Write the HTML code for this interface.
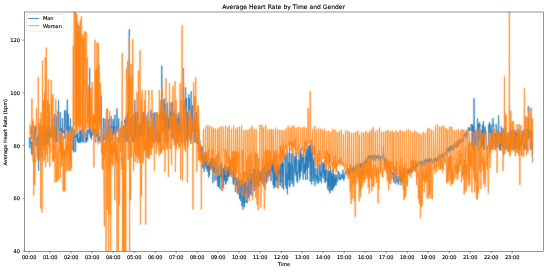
<!DOCTYPE html><html><head><meta charset="utf-8"><title>Average Heart Rate by Time and Gender</title>
<style>html,body{margin:0;padding:0;background:#fff}svg{display:block}text{font-family:"DejaVu Sans","Liberation Sans",sans-serif;fill:#000;stroke:#000;stroke-width:0.12px}</style></head><body>
<svg width="550" height="272" viewBox="0 0 550 272">
<rect width="550" height="272" fill="#fff"/>
<defs><clipPath id="c"><rect x="24.40" y="12.00" width="519.30" height="239.20"/></clipPath><filter id="b" x="0" y="0" width="550" height="272" filterUnits="userSpaceOnUse"><feConvolveMatrix order="3" kernelMatrix="0.0169 0.0962 0.0169 0.0962 0.5476 0.0962 0.0169 0.0962 0.0169" edgeMode="duplicate" preserveAlpha="false"/></filter></defs>
<g clip-path="url(#c)"><g filter="url(#b)" fill="none" stroke-width="0.82" stroke-linejoin="round">
<polyline stroke="#1f77b4" points="29.15,137.01 29.50,144.31 29.85,148.23 30.20,141.00 30.55,137.05 30.90,143.59 31.25,141.88 31.60,154.62 31.95,142.09 32.30,154.56 32.65,154.15 33.00,148.08 33.35,135.62 33.70,150.17 34.05,131.09 34.40,140.45 34.75,126.98 35.10,125.44 35.45,132.59 35.80,126.24 36.15,146.00 36.50,138.05 36.85,145.46 37.20,145.90 37.55,143.11 37.90,140.14 38.25,134.61 38.60,170.60 38.95,140.83 39.30,126.27 39.65,136.49 40.00,132.68 40.35,136.01 40.70,142.02 41.05,141.38 41.40,137.78 41.75,143.77 42.10,144.46 42.45,125.44 42.80,126.07 43.15,125.12 43.50,126.31 43.85,145.91 44.20,129.59 44.55,133.50 44.90,134.36 45.25,137.61 45.60,128.79 45.95,143.56 46.30,130.20 46.65,144.79 47.00,144.06 47.35,125.00 47.70,137.07 48.05,125.49 48.40,143.78 48.75,125.95 49.10,128.66 49.45,109.00 49.80,136.25 50.15,138.01 50.50,131.84 50.85,134.52 51.20,127.58 51.55,133.06 51.90,128.47 52.25,138.19 52.60,117.00 52.95,126.74 53.30,127.49 53.65,134.83 54.00,136.03 54.35,126.00 54.70,114.00 55.05,140.95 55.40,131.05 55.75,126.98 56.10,140.83 56.45,141.98 56.80,116.00 57.15,139.76 57.50,140.73 57.85,141.84 58.20,127.66 58.55,100.40 58.90,127.05 59.25,128.02 59.60,141.61 59.95,141.68 60.30,112.00 60.65,126.63 61.00,130.43 61.35,128.19 61.70,137.60 62.05,139.10 62.40,118.00 62.75,132.43 63.10,132.92 63.45,133.19 63.80,130.83 64.15,132.88 64.50,110.40 64.85,138.93 65.20,129.85 65.55,135.67 65.90,110.40 66.25,126.08 66.60,131.22 66.95,130.58 67.30,99.50 67.65,126.25 68.00,132.15 68.35,114.00 68.70,140.98 69.05,126.04 69.40,129.64 69.75,130.79 70.10,129.53 70.45,118.50 70.80,136.24 71.15,141.00 71.50,131.09 71.85,127.20 72.20,127.09 72.55,127.66 72.90,150.45 73.25,132.27 73.60,150.41 73.95,152.29 74.30,129.44 74.65,131.22 75.00,134.88 75.35,151.72 75.70,150.80 76.05,134.33 76.40,138.00 76.75,133.76 77.10,135.38 77.45,141.58 77.80,131.24 78.15,141.80 78.50,142.78 78.85,138.18 79.20,142.94 79.55,142.87 79.90,129.99 80.25,143.00 80.60,130.34 80.95,141.72 81.30,129.50 81.65,131.93 82.00,134.73 82.35,142.13 82.70,139.76 83.05,130.39 83.40,142.64 83.75,142.38 84.10,136.22 84.45,129.09 84.80,131.63 85.15,131.75 85.50,134.23 85.85,142.89 86.20,138.06 86.55,141.91 86.90,129.17 87.25,130.98 87.60,140.65 87.95,132.64 88.30,130.71 88.65,129.14 89.00,129.09 89.35,134.10 89.70,68.00 90.05,133.83 90.40,137.42 90.75,131.73 91.10,129.01 91.45,139.65 91.80,132.55 92.15,135.81 92.50,133.38 92.85,131.37 93.20,129.09 93.55,131.82 93.90,131.85 94.25,129.45 94.60,129.03 94.95,135.58 95.30,129.01 95.65,142.50 96.00,133.03 96.35,134.77 96.70,136.56 97.05,129.02 97.40,129.35 97.75,141.47 98.10,137.24 98.45,135.85 98.80,132.70 99.15,140.97 99.50,136.07 99.85,141.56 100.20,142.04 100.55,142.55 100.90,140.07 101.25,95.40 101.60,133.45 101.95,135.35 102.30,136.54 102.65,135.13 103.00,141.57 103.35,118.00 103.70,126.11 104.05,140.43 104.40,137.44 104.75,136.98 105.10,118.50 105.45,126.10 105.80,133.75 106.15,131.19 106.50,142.67 106.85,127.10 107.20,136.03 107.55,126.85 107.90,140.36 108.25,134.08 108.60,119.00 108.95,129.59 109.30,142.14 109.65,126.00 110.00,127.99 110.35,139.90 110.70,142.05 111.05,116.00 111.40,128.92 111.75,126.27 112.10,139.37 112.45,139.80 112.80,126.15 113.15,119.00 113.50,135.00 113.85,126.05 114.20,133.73 114.55,130.24 114.90,114.80 115.25,141.96 115.60,142.31 115.95,126.62 116.30,132.83 116.65,128.85 117.00,108.50 117.35,126.48 117.70,130.11 118.05,131.92 118.40,133.49 118.75,118.50 119.10,136.61 119.45,142.21 119.80,142.15 120.15,141.99 120.50,141.17 120.85,128.01 121.20,128.29 121.55,121.00 121.90,137.68 122.25,136.79 122.60,130.43 122.95,142.23 123.30,129.60 123.65,126.02 124.00,126.33 124.35,127.69 124.70,119.50 125.05,141.13 125.40,120.49 125.75,119.02 126.10,116.16 126.45,138.86 126.80,141.34 127.15,116.86 127.50,112.77 127.85,141.99 128.20,142.00 128.55,136.48 128.90,125.73 129.25,29.20 129.60,138.18 129.95,127.44 130.30,117.13 130.65,128.19 131.00,134.34 131.35,119.14 131.70,133.39 132.05,113.57 132.40,142.01 132.75,115.20 133.10,115.65 133.45,141.98 133.80,141.93 134.15,141.71 134.50,140.30 134.85,99.80 135.20,139.83 135.55,130.22 135.90,112.41 136.25,137.13 136.60,140.23 136.95,140.29 137.30,112.14 137.65,112.28 138.00,137.14 138.35,126.55 138.70,141.42 139.05,142.26 139.40,124.63 139.75,135.08 140.10,134.66 140.45,135.82 140.80,121.03 141.15,133.60 141.50,112.34 141.85,141.61 142.20,136.98 142.55,139.54 142.90,125.39 143.25,111.60 143.60,124.88 143.95,135.38 144.30,129.50 144.65,112.88 145.00,112.00 145.35,122.42 145.70,116.29 146.05,115.71 146.40,115.54 146.75,123.26 147.10,136.03 147.45,141.95 147.80,135.30 148.15,112.03 148.50,141.24 148.85,132.40 149.20,137.45 149.55,132.63 149.90,120.53 150.25,119.90 150.60,112.38 150.95,109.80 151.30,112.22 151.65,135.57 152.00,142.05 152.35,135.04 152.70,132.36 153.05,113.00 153.40,142.57 153.75,140.11 154.10,142.70 154.45,113.00 154.80,112.02 155.15,132.77 155.50,133.85 155.85,141.36 156.20,132.70 156.55,120.98 156.90,112.00 157.25,140.67 157.60,133.29 157.95,142.81 158.30,131.88 158.65,141.22 159.00,139.07 159.35,142.86 159.70,125.61 160.05,142.09 160.40,122.53 160.75,112.01 161.10,119.41 161.45,120.50 161.80,65.70 162.15,122.46 162.50,117.42 162.85,100.00 163.20,112.72 163.55,118.60 163.90,122.48 164.25,98.40 164.60,132.21 164.95,123.80 165.30,104.00 165.65,120.02 166.00,143.02 166.35,114.84 166.70,129.04 167.05,115.76 167.40,102.50 167.75,118.48 168.10,142.29 168.45,118.08 168.80,127.00 169.15,128.75 169.50,103.00 169.85,129.29 170.20,112.33 170.55,120.49 170.90,117.83 171.25,102.00 171.60,139.32 171.95,136.83 172.30,132.21 172.65,102.50 173.00,138.37 173.35,112.24 173.70,113.29 174.05,138.64 174.40,141.37 174.75,143.31 175.10,139.58 175.45,113.89 175.80,130.96 176.15,133.65 176.50,132.75 176.85,113.38 177.20,143.31 177.55,128.21 177.90,118.00 178.25,143.39 178.60,122.15 178.95,112.38 179.30,135.69 179.65,116.95 180.00,115.55 180.35,118.59 180.70,132.95 181.05,119.30 181.40,135.55 181.75,142.83 182.10,143.53 182.45,142.59 182.80,143.07 183.15,116.73 183.50,68.00 183.85,112.62 184.20,131.81 184.55,112.44 184.90,112.76 185.25,143.42 185.60,87.30 185.95,137.80 186.30,129.18 186.65,98.00 187.00,140.45 187.35,112.29 187.70,142.70 188.05,141.20 188.40,127.67 188.75,94.40 189.10,112.06 189.45,98.00 189.80,112.12 190.15,129.18 190.50,143.34 190.85,136.33 191.20,91.30 191.55,138.08 191.90,137.33 192.25,119.78 192.60,105.00 192.95,131.83 193.30,123.66 193.65,129.23 194.00,117.61 194.35,118.06 194.70,142.94 195.05,120.69 195.40,139.97 195.75,121.48 196.10,114.77 196.45,112.00 196.80,143.86 197.15,139.35 197.50,143.96 197.85,132.41 198.20,115.09 198.55,121.45 198.90,124.74 199.25,160.00 199.60,152.81 199.95,140.28 200.30,149.11 200.65,146.11 201.00,148.34 201.35,146.45 201.70,159.70 202.05,146.85 202.40,167.07 202.75,157.18 203.10,168.44 203.45,159.01 203.80,151.91 204.15,171.89 204.50,168.08 204.85,154.80 205.20,162.93 205.55,152.17 205.90,166.72 206.25,155.89 206.60,168.92 206.95,161.79 207.30,171.64 207.65,158.67 208.00,167.90 208.35,156.13 208.70,177.61 209.05,162.15 209.40,175.26 209.75,165.36 210.10,169.54 210.45,158.49 210.80,169.23 211.15,161.42 211.50,157.97 211.85,169.21 212.20,165.95 212.55,158.83 212.90,183.29 213.25,158.54 213.60,171.65 213.95,167.50 214.30,172.45 214.65,160.28 215.00,180.83 215.35,171.69 215.70,173.71 216.05,161.07 216.40,173.62 216.75,170.81 217.10,180.43 217.45,173.42 217.80,186.72 218.15,164.86 218.50,186.80 218.85,175.22 219.20,180.87 219.55,175.66 219.90,188.95 220.25,164.51 220.60,176.53 220.95,176.54 221.30,177.60 221.65,162.81 222.00,191.00 222.35,175.93 222.70,189.77 223.05,168.64 223.40,187.76 223.75,167.96 224.10,180.95 224.45,164.19 224.80,179.47 225.15,174.11 225.50,184.60 225.85,164.96 226.20,183.09 226.55,171.25 226.90,173.59 227.25,168.19 227.60,180.90 227.95,166.37 228.30,176.69 228.65,172.11 229.00,172.55 229.35,165.75 229.70,176.66 230.05,166.02 230.40,172.66 230.75,172.34 231.10,174.26 231.45,167.95 231.80,175.46 232.15,173.01 232.50,171.54 232.85,172.77 233.20,183.53 233.55,167.73 233.90,184.88 234.25,167.96 234.60,179.57 234.95,169.98 235.30,191.94 235.65,191.38 236.00,185.26 236.35,177.60 236.70,185.46 237.05,177.32 237.40,193.59 237.75,181.19 238.10,184.40 238.45,175.52 238.80,194.36 239.15,180.35 239.50,198.83 239.85,179.71 240.20,187.77 240.55,201.00 240.90,191.45 241.25,179.62 241.60,190.11 241.95,206.00 242.30,192.97 242.65,171.55 243.00,209.50 243.35,184.13 243.70,203.13 244.05,182.72 244.40,207.00 244.75,171.63 245.10,192.86 245.45,181.83 245.80,202.98 246.15,203.00 246.50,201.24 246.85,172.18 247.20,202.90 247.55,185.82 247.90,190.75 248.25,169.26 248.60,197.71 248.95,182.87 249.30,197.06 249.65,179.59 250.00,194.61 250.35,169.35 250.70,194.80 251.05,183.17 251.40,183.98 251.75,172.90 252.10,196.14 252.45,179.96 252.80,183.14 253.15,169.06 253.50,168.78 253.85,181.68 254.20,191.07 254.55,169.52 254.90,186.71 255.25,169.02 255.60,186.89 255.95,179.73 256.30,174.35 256.65,176.46 257.00,187.48 257.35,168.49 257.70,185.91 258.05,169.08 258.40,184.57 258.75,175.82 259.10,187.35 259.45,178.32 259.80,171.14 260.15,174.44 260.50,180.61 260.85,172.40 261.20,180.28 261.55,169.74 261.90,182.52 262.25,174.12 262.60,183.50 262.95,177.16 263.30,167.12 263.65,166.36 264.00,185.29 264.35,165.67 264.70,180.15 265.05,164.96 265.40,174.47 265.75,166.47 266.10,183.42 266.45,172.78 266.80,182.37 267.15,164.16 267.50,176.58 267.85,171.56 268.20,172.21 268.55,170.05 268.90,176.50 269.25,162.03 269.60,174.46 269.95,161.18 270.30,175.77 270.65,170.11 271.00,181.11 271.35,165.67 271.70,171.66 272.05,160.31 272.40,172.57 272.75,161.18 273.10,184.83 273.45,160.72 273.80,188.32 274.15,165.98 274.50,186.03 274.85,172.94 275.20,187.48 275.55,160.59 275.90,175.86 276.25,165.48 276.60,180.60 276.95,174.69 277.30,187.81 277.65,165.13 278.00,182.07 278.35,171.53 278.70,182.63 279.05,164.81 279.40,174.27 279.75,166.89 280.10,186.02 280.45,163.76 280.80,182.83 281.15,175.16 281.50,161.47 281.85,167.08 282.20,187.91 282.55,160.69 282.90,176.28 283.25,163.20 283.60,189.69 283.95,161.34 284.30,158.56 284.65,160.18 285.00,154.96 285.35,174.96 285.70,185.94 286.05,153.47 286.40,188.83 286.75,172.59 287.10,184.68 287.45,194.40 287.80,152.98 288.15,173.88 288.50,179.74 288.85,162.42 289.20,185.61 289.55,146.03 289.90,187.22 290.25,163.39 290.60,179.71 290.95,172.04 291.30,153.22 291.65,165.82 292.00,183.87 292.35,165.12 292.70,180.94 293.05,151.29 293.40,187.03 293.75,186.36 294.10,175.85 294.45,172.90 294.80,155.83 295.15,172.25 295.50,154.32 295.85,166.82 296.20,175.94 296.55,153.15 296.90,181.22 297.25,171.90 297.60,183.08 297.95,173.91 298.30,159.26 298.65,172.92 299.00,160.35 299.35,161.21 299.70,180.18 300.05,151.48 300.40,176.86 300.75,147.90 301.10,171.42 301.45,169.47 301.80,154.01 302.15,162.08 302.50,157.48 302.85,168.33 303.20,179.59 303.55,153.18 303.90,173.55 304.25,163.60 304.60,173.18 304.95,167.93 305.30,155.34 305.65,179.69 306.00,149.48 306.35,162.39 306.70,169.75 307.05,148.20 307.40,179.66 307.75,148.12 308.10,167.77 308.45,164.57 308.80,145.50 309.15,161.57 309.50,145.18 309.85,169.74 310.20,181.55 310.55,143.61 310.90,175.23 311.25,148.29 311.60,184.33 311.95,160.29 312.30,150.52 312.65,162.79 313.00,181.20 313.35,160.03 313.70,178.34 314.05,157.61 314.40,176.09 314.75,186.10 315.10,182.21 315.45,175.93 315.80,167.88 316.15,177.24 316.50,179.61 316.85,174.74 317.20,183.42 317.55,162.10 317.90,177.27 318.25,176.89 318.60,183.19 318.95,174.80 319.30,163.98 319.65,174.10 320.00,181.15 320.35,171.13 320.70,175.57 321.05,162.84 321.40,183.18 321.75,173.68 322.10,177.61 322.45,173.50 322.80,161.81 323.15,173.15 323.50,163.54 323.85,175.14 324.20,179.22 324.55,161.48 324.90,182.32 325.25,170.12 325.60,182.53 325.95,178.30 326.30,164.69 326.65,174.05 327.00,180.87 327.35,178.96 327.70,189.29 328.05,170.35 328.40,186.23 328.75,171.36 329.10,191.34 329.45,174.37 329.80,170.77 330.15,193.40 330.50,165.85 330.85,178.26 331.20,190.26 331.55,174.13 331.90,190.14 332.25,170.13 332.60,190.56 332.95,177.36 333.30,168.99 333.65,188.25 334.00,175.66 334.35,181.73 334.70,186.49 335.05,174.00 335.40,184.86 335.75,177.92 336.10,185.14 336.45,178.72 336.80,174.66 337.15,181.24 337.50,181.96 337.85,178.79 338.20,170.99 338.55,173.51 338.90,172.14 339.25,179.99 339.60,173.38 339.95,175.76 340.30,180.09 340.65,177.11 341.00,178.35 341.35,174.06 341.70,175.94 342.05,177.37 342.40,178.89 342.75,169.93 343.10,169.81 343.45,179.39 343.80,180.80 344.15,174.90 344.50,178.51 344.85,174.26 345.20,172.56 345.55,170.71 345.90,174.45 346.25,173.65 346.60,171.72 346.95,170.38 347.30,170.24 347.65,168.37 348.00,168.78 348.35,174.10 348.70,170.09 349.05,168.06 349.40,174.86 349.75,170.66 350.10,173.42 350.45,171.15 350.80,174.57 351.15,168.16 351.50,170.73 351.85,171.76 352.20,167.21 352.55,173.27 352.90,169.03 353.25,171.22 353.60,166.84 353.95,166.65 354.30,166.52 354.65,171.25 355.00,172.14 355.35,171.77 355.70,168.88 356.05,165.62 356.40,170.24 356.75,168.16 357.10,169.90 357.45,168.67 357.80,168.01 358.15,165.06 358.50,164.68 358.85,164.06 359.20,166.33 359.55,165.14 359.90,169.61 360.25,163.08 360.60,167.87 360.95,163.11 361.30,162.67 361.65,168.09 362.00,162.85 362.35,165.16 362.70,164.77 363.05,163.15 363.40,162.48 363.75,160.70 364.10,164.26 364.45,161.68 364.80,162.96 365.15,164.16 365.50,158.64 365.85,160.76 366.20,159.94 366.55,163.68 366.90,161.18 367.25,157.89 367.60,159.40 367.95,155.98 368.30,159.15 368.65,155.72 369.00,155.88 369.35,158.15 369.70,158.04 370.05,155.49 370.40,158.11 370.75,156.23 371.10,158.99 371.45,154.46 371.80,160.00 372.15,157.28 372.50,155.37 372.85,156.21 373.20,158.60 373.55,154.89 373.90,160.63 374.25,155.81 374.60,157.16 374.95,154.82 375.30,157.52 375.65,161.08 376.00,155.68 376.35,155.64 376.70,158.25 377.05,158.92 377.40,155.46 377.75,156.02 378.10,158.73 378.45,156.18 378.80,154.69 379.15,159.36 379.50,160.58 379.85,160.14 380.20,160.49 380.55,155.99 380.90,156.67 381.25,158.70 381.60,158.81 381.95,158.88 382.30,158.67 382.65,156.79 383.00,157.17 383.35,146.20 383.70,156.60 384.05,160.62 384.40,157.50 384.75,163.39 385.10,164.37 385.45,159.24 385.80,165.54 386.15,163.71 386.50,159.94 386.85,163.14 387.20,163.55 387.55,163.74 387.90,162.61 388.25,164.40 388.60,163.38 388.95,166.96 389.30,167.75 389.65,166.56 390.00,171.97 390.35,172.28 390.70,170.16 391.05,172.86 391.40,170.31 391.75,173.69 392.10,174.44 392.45,172.05 392.80,175.35 393.15,179.39 393.50,171.41 393.85,182.66 394.20,174.96 394.55,175.92 394.90,176.11 395.25,181.79 395.60,184.11 395.95,180.66 396.30,173.41 396.65,178.48 397.00,182.33 397.35,182.48 397.70,181.97 398.05,175.92 398.40,185.11 398.75,183.78 399.10,176.53 399.45,179.13 399.80,173.64 400.15,181.47 400.50,178.39 400.85,176.35 401.20,185.55 401.55,174.44 401.90,180.43 402.25,178.66 402.60,177.62 402.95,178.67 403.30,172.25 403.65,175.73 404.00,176.28 404.35,177.55 404.70,175.69 405.05,172.33 405.40,170.83 405.75,171.09 406.10,171.44 406.45,173.38 406.80,171.40 407.15,169.94 407.50,169.26 407.85,173.20 408.20,173.86 408.55,168.78 408.90,171.27 409.25,174.29 409.60,169.71 409.95,170.68 410.30,172.37 410.65,166.61 411.00,172.31 411.35,171.38 411.70,170.86 412.05,167.87 412.40,168.69 412.75,171.62 413.10,165.25 413.45,165.18 413.80,168.87 414.15,170.84 414.50,165.00 414.85,165.06 415.20,166.74 415.55,168.83 415.90,167.03 416.25,167.49 416.60,163.02 416.95,163.83 417.30,166.32 417.65,167.07 418.00,162.42 418.35,162.20 418.70,163.55 419.05,164.04 419.40,163.25 419.75,161.89 420.10,161.00 420.45,164.79 420.80,166.73 421.15,164.27 421.50,166.05 421.85,160.29 422.20,163.50 422.55,161.55 422.90,164.87 423.25,163.08 423.60,163.14 423.95,165.19 424.30,165.43 424.65,159.65 425.00,161.70 425.35,159.18 425.70,162.46 426.05,160.05 426.40,163.32 426.75,160.87 427.10,158.38 427.45,164.50 427.80,159.11 428.15,160.06 428.50,161.77 428.85,158.47 429.20,163.43 429.55,162.99 429.90,158.74 430.25,162.22 430.60,158.72 430.95,161.48 431.30,158.37 431.65,159.64 432.00,160.77 432.35,161.38 432.70,162.09 433.05,163.87 433.40,159.55 433.75,159.48 434.10,158.33 434.45,161.85 434.80,159.09 435.15,157.83 435.50,157.52 435.85,158.95 436.20,161.69 436.55,158.73 436.90,161.19 437.25,158.62 437.60,159.22 437.95,156.76 438.30,157.67 438.65,159.70 439.00,155.05 439.35,157.47 439.70,155.89 440.05,155.98 440.40,156.14 440.75,154.99 441.10,157.47 441.45,153.54 441.80,154.76 442.15,154.76 442.50,154.01 442.85,158.41 443.20,157.10 443.55,158.15 443.90,152.51 444.25,152.53 444.60,153.05 444.95,154.06 445.30,155.98 445.65,155.62 446.00,155.44 446.35,149.19 446.70,148.90 447.05,150.70 447.40,150.99 447.75,147.67 448.10,149.72 448.45,147.81 448.80,152.67 449.15,147.66 449.50,148.06 449.85,146.70 450.20,151.05 450.55,145.54 450.90,147.51 451.25,145.75 451.60,145.70 451.95,150.72 452.30,148.53 452.65,148.45 453.00,145.56 453.35,149.69 453.70,149.37 454.05,146.84 454.40,143.75 454.75,142.28 455.10,145.52 455.45,144.89 455.80,147.29 456.15,148.01 456.50,146.52 456.85,142.27 457.20,147.24 457.55,144.41 457.90,140.16 458.25,141.12 458.60,146.11 458.95,144.61 459.30,143.87 459.65,142.97 460.00,138.14 460.35,144.18 460.70,139.36 461.05,142.32 461.40,140.34 461.75,139.62 462.10,139.54 462.45,141.93 462.80,140.99 463.15,137.55 463.50,140.40 463.85,135.30 464.20,136.17 464.55,135.62 464.90,133.34 465.25,135.47 465.60,132.32 465.95,138.73 466.30,137.20 466.65,134.33 467.00,130.91 467.35,131.82 467.70,134.88 468.05,131.03 468.40,127.00 468.75,130.97 469.10,131.53 469.45,127.87 469.80,129.12 470.15,129.88 470.50,130.70 470.85,127.83 471.20,124.00 471.55,127.98 471.90,146.20 472.25,124.40 472.60,149.54 472.95,138.83 473.30,125.88 473.65,147.86 474.00,98.40 474.35,125.07 474.70,149.12 475.05,149.89 475.40,131.31 475.75,147.28 476.10,145.30 476.45,139.71 476.80,132.49 477.15,129.79 477.50,118.00 477.85,147.09 478.20,149.81 478.55,124.30 478.90,139.84 479.25,122.00 479.60,126.92 479.95,124.03 480.30,149.28 480.65,147.04 481.00,145.06 481.35,130.48 481.70,134.49 482.05,147.81 482.40,124.56 482.75,145.37 483.10,144.88 483.45,121.00 483.80,149.86 484.15,142.22 484.50,149.14 484.85,126.35 485.20,133.30 485.55,129.10 485.90,136.93 486.25,146.31 486.60,150.00 486.95,149.49 487.30,148.64 487.65,149.96 488.00,145.71 488.35,145.81 488.70,124.53 489.05,133.28 489.40,122.00 489.75,124.70 490.10,149.38 490.45,131.94 490.80,127.62 491.15,124.43 491.50,138.51 491.85,130.62 492.20,149.83 492.55,142.32 492.90,118.00 493.25,125.56 493.60,124.15 493.95,144.24 494.30,141.48 494.65,136.79 495.00,137.25 495.35,133.40 495.70,149.44 496.05,124.20 496.40,127.28 496.75,147.37 497.10,130.01 497.45,131.11 497.80,136.14 498.15,130.43 498.50,115.00 498.85,124.72 499.20,142.78 499.55,149.98 499.90,132.45 500.25,150.62 500.60,133.54 500.95,146.41 501.30,126.51 501.65,133.02 502.00,144.11 502.35,146.52 502.70,140.19 503.05,128.10 503.40,143.73 503.75,154.77 504.10,132.76 504.45,130.70 504.80,143.94 505.15,130.92 505.50,128.72 505.85,128.49 506.20,143.27 506.55,149.26 506.90,147.32 507.25,142.16 507.60,149.17 507.95,148.79 508.30,131.98 508.65,135.24 509.00,149.96 509.35,149.82 509.70,143.84 510.05,143.51 510.40,134.14 510.75,128.95 511.10,133.79 511.45,131.26 511.80,143.60 512.15,144.32 512.50,143.55 512.85,149.59 513.20,128.68 513.55,130.85 513.90,129.25 514.25,135.15 514.60,149.61 514.95,138.33 515.30,147.96 515.65,130.54 516.00,134.77 516.35,147.96 516.70,133.08 517.05,146.44 517.40,142.71 517.75,144.42 518.10,129.05 518.45,135.06 518.80,149.99 519.15,135.55 519.50,132.85 519.85,150.00 520.20,142.48 520.55,145.61 520.90,139.07 521.25,143.53 521.60,136.10 521.95,132.89 522.30,133.33 522.65,131.84 523.00,145.59 523.35,129.75 523.70,130.07 524.05,139.93 524.40,149.99 524.75,147.67 525.10,144.93 525.45,146.80 525.80,131.60 526.15,140.11 526.50,129.58 526.85,140.44 527.20,129.67 527.55,130.30 527.90,130.38 528.25,106.00 528.60,139.06 528.95,132.02 529.30,130.05 529.65,130.50 530.00,149.88 530.35,149.99 530.70,149.63 531.05,130.78 531.40,131.85 531.75,149.28 532.10,129.95 532.45,152.00 532.80,162.60"/>
<polyline stroke="#ff7f0e" points="29.85,123.38 30.20,135.07 30.55,126.01 30.90,137.38 31.25,126.38 31.60,139.36 31.95,98.50 32.30,134.80 32.65,119.02 33.00,161.69 33.35,121.56 33.70,195.40 34.05,135.75 34.40,151.30 34.75,185.00 35.10,159.43 35.45,162.73 35.80,149.79 36.15,121.42 36.50,108.50 36.85,124.59 37.20,157.94 37.55,136.30 37.90,161.33 38.25,77.00 38.60,134.26 38.95,130.18 39.30,160.74 39.65,123.32 40.00,149.22 40.35,118.81 40.70,208.50 41.05,112.04 41.40,156.36 41.75,127.10 42.10,212.50 42.45,60.50 42.80,161.09 43.15,159.78 43.50,100.00 43.85,116.70 44.20,150.12 44.55,92.00 44.90,160.46 45.25,57.00 45.60,167.50 45.95,122.01 46.30,47.40 46.65,118.24 47.00,154.92 47.35,100.00 47.70,162.37 48.05,129.97 48.40,79.00 48.75,134.62 49.10,146.87 49.45,104.00 49.80,167.00 50.15,144.47 50.50,153.06 50.85,140.83 51.20,80.00 51.55,138.31 51.90,96.00 52.25,141.56 52.60,161.26 52.95,94.00 53.30,161.42 53.65,127.27 54.00,159.86 54.35,127.92 54.70,150.06 55.05,182.50 55.40,158.84 55.75,99.00 56.10,150.20 56.45,182.00 56.80,157.60 57.15,139.80 57.50,111.00 57.85,181.00 58.20,150.49 58.55,178.80 58.90,150.06 59.25,138.63 59.60,151.33 59.95,141.41 60.30,178.00 60.65,131.85 61.00,158.26 61.35,137.48 61.70,166.56 62.05,131.96 62.40,158.92 62.75,142.74 63.10,191.00 63.45,136.56 63.80,165.74 64.15,192.00 64.50,149.90 64.85,191.00 65.20,156.55 65.55,128.43 65.90,157.01 66.25,144.26 66.60,171.00 66.95,132.80 67.30,150.08 67.65,131.89 68.00,171.00 68.35,134.17 68.70,151.97 69.05,145.98 69.40,171.00 69.75,129.96 70.10,162.54 70.45,134.12 70.80,171.00 71.15,144.45 71.50,167.89 71.85,127.14 72.20,146.07 72.55,132.62 72.90,135.72 73.25,45.35 73.60,135.24 73.95,5.85 74.30,4.00 74.65,6.83 75.00,126.19 75.35,10.31 75.70,133.87 76.05,14.00 76.40,129.46 76.75,13.69 77.10,133.46 77.45,21.00 77.80,125.54 78.15,23.92 78.50,126.20 78.85,31.36 79.20,130.45 79.55,26.00 79.90,128.74 80.25,19.93 80.60,126.29 80.95,22.82 81.30,16.00 81.65,16.90 82.00,133.13 82.35,36.69 82.70,131.97 83.05,34.00 83.40,131.91 83.75,38.11 84.10,136.61 84.45,34.45 84.80,31.00 85.15,34.22 85.50,129.34 85.85,34.16 86.20,32.00 86.55,34.07 86.90,128.58 87.25,57.41 87.60,123.00 87.95,100.66 88.30,127.65 88.65,85.00 89.00,118.10 89.35,110.25 89.70,128.68 90.05,95.33 90.40,129.25 90.75,93.85 91.10,88.00 91.45,109.50 91.80,129.66 92.15,82.00 92.50,131.37 92.85,113.59 93.20,134.44 93.55,116.28 93.90,167.50 94.25,115.04 94.60,125.11 94.95,39.70 95.30,140.17 95.65,69.91 96.00,134.95 96.35,68.50 96.70,132.52 97.05,42.40 97.40,129.81 97.75,69.59 98.10,144.58 98.45,43.00 98.80,134.81 99.15,64.82 99.50,125.43 99.85,102.58 100.20,129.22 100.55,83.00 100.90,125.61 101.25,136.98 101.60,153.36 101.95,140.39 102.30,169.37 102.65,133.75 103.00,169.06 103.35,139.91 103.70,168.11 104.05,200.00 104.40,226.30 104.75,141.86 105.10,158.08 105.45,128.39 105.80,169.85 106.15,262.00 106.50,108.50 106.85,129.93 107.20,210.00 107.55,108.50 107.90,150.51 108.25,142.04 108.60,262.00 108.95,133.92 109.30,169.97 109.65,111.00 110.00,215.00 110.35,133.42 110.70,262.00 111.05,128.04 111.40,154.93 111.75,144.77 112.10,164.60 112.45,135.52 112.80,166.17 113.15,146.27 113.50,155.59 113.85,133.43 114.20,152.67 114.55,142.11 114.90,200.00 115.25,128.39 115.60,163.26 115.95,132.45 116.30,159.65 116.65,147.28 117.00,262.00 117.35,137.03 117.70,164.89 118.05,158.08 118.40,262.00 118.75,128.05 119.10,156.66 119.45,205.00 119.80,168.19 120.15,128.65 120.50,151.90 120.85,135.60 121.20,160.82 121.55,157.10 121.90,169.52 122.25,52.90 122.60,262.00 122.95,127.45 123.30,160.87 123.65,262.00 124.00,162.43 124.35,126.12 124.70,262.00 125.05,122.58 125.40,151.77 125.75,262.00 126.10,151.70 126.45,68.70 126.80,132.85 127.15,75.78 127.50,60.80 127.85,75.58 128.20,159.84 128.55,76.47 128.90,146.10 129.25,37.20 129.60,262.00 129.95,76.97 130.30,139.46 130.65,200.00 131.00,63.90 131.35,78.47 131.70,157.29 132.05,76.28 132.40,136.51 132.75,39.40 133.10,132.63 133.45,171.00 133.80,150.50 134.15,113.36 134.50,153.17 134.85,128.46 135.20,162.06 135.55,138.89 135.90,143.20 136.25,112.14 136.60,156.51 136.95,92.00 137.30,163.45 137.65,123.57 138.00,149.96 138.35,70.50 138.70,158.36 139.05,129.50 139.40,162.84 139.75,121.79 140.10,50.20 140.45,224.70 140.80,157.73 141.15,100.00 141.50,196.00 141.85,132.74 142.20,90.30 142.55,133.52 142.90,163.42 143.25,124.14 143.60,160.09 143.95,116.69 144.30,151.14 144.65,100.00 145.00,150.24 145.35,90.00 145.70,224.70 146.05,117.56 146.40,153.84 146.75,138.28 147.10,157.16 147.45,120.85 147.80,158.06 148.15,136.91 148.50,158.90 148.85,90.00 149.20,158.36 149.55,127.19 149.90,154.74 150.25,127.28 150.60,148.63 150.95,121.05 151.30,155.42 151.65,127.62 152.00,90.00 152.35,118.24 152.70,147.89 153.05,118.39 153.40,143.88 153.75,127.93 154.10,148.12 154.45,171.00 154.80,146.79 155.15,129.29 155.50,113.00 155.85,125.72 156.20,153.52 156.55,126.41 156.90,112.00 157.25,124.52 157.60,144.25 157.95,132.07 158.30,149.83 158.65,114.00 159.00,156.33 159.35,90.00 159.70,136.03 160.05,108.95 160.40,154.04 160.75,100.00 161.10,153.08 161.45,119.60 161.80,151.44 162.15,87.30 162.50,132.49 162.85,107.81 163.20,149.72 163.55,120.67 163.90,149.62 164.25,110.35 164.60,137.17 164.95,171.90 165.30,144.53 165.65,125.81 166.00,78.20 166.35,128.07 166.70,149.66 167.05,127.75 167.40,146.63 167.75,115.34 168.10,129.83 168.45,176.90 168.80,144.69 169.15,123.00 169.50,83.30 169.85,108.40 170.20,149.03 170.55,115.34 170.90,129.73 171.25,115.79 171.60,165.00 171.95,123.75 172.30,135.23 172.65,110.16 173.00,86.30 173.35,114.22 173.70,141.89 174.05,110.76 174.40,145.94 174.75,107.62 175.10,81.20 175.45,171.90 175.80,134.92 176.15,100.00 176.50,149.30 176.85,129.68 177.20,142.89 177.55,123.96 177.90,136.79 178.25,128.46 178.60,148.29 178.95,121.85 179.30,147.04 179.65,133.67 180.00,83.30 180.35,109.60 180.70,179.40 181.05,100.00 181.40,139.48 181.75,108.06 182.10,25.20 182.45,180.60 182.80,147.61 183.15,106.64 183.50,70.00 183.85,119.71 184.20,146.13 184.55,100.00 184.90,149.52 185.25,107.01 185.60,151.55 185.95,112.42 186.30,140.02 186.65,123.11 187.00,147.61 187.35,182.50 187.70,138.53 188.05,147.16 188.40,141.08 188.75,110.38 189.10,139.93 189.45,111.34 189.80,135.89 190.15,117.00 190.50,136.56 190.85,115.34 191.20,143.86 191.55,119.86 191.90,130.16 192.25,123.57 192.60,130.87 192.95,209.50 193.30,149.22 193.65,82.20 194.00,131.40 194.35,113.25 194.70,96.00 195.05,125.77 195.40,142.34 195.75,77.20 196.10,129.27 196.45,116.73 196.80,171.90 197.15,125.54 197.50,142.01 197.85,105.50 198.20,151.52 198.55,106.00 198.90,160.59 199.25,128.99 199.60,159.02 199.95,145.10 200.30,161.61 200.65,144.24 201.00,154.27 201.35,209.50 201.70,160.11 202.05,151.87 202.40,162.97 202.75,154.56 203.10,166.50 203.45,129.05 203.80,163.68 204.15,156.10 204.50,156.98 204.85,156.84 205.20,160.71 205.55,126.17 205.90,162.38 206.25,152.14 206.60,160.03 206.95,156.43 207.30,166.26 207.65,124.85 208.00,165.07 208.35,149.27 208.70,164.25 209.05,149.08 209.40,125.76 209.75,151.40 210.10,161.37 210.45,170.66 210.80,168.66 211.15,153.60 211.50,126.32 211.85,156.44 212.20,161.48 212.55,150.03 212.90,173.53 213.25,127.88 213.60,164.97 213.95,161.92 214.30,166.75 214.65,157.99 215.00,162.91 215.35,128.44 215.70,176.19 216.05,156.00 216.40,155.19 216.75,162.91 217.10,175.93 217.45,129.22 217.80,175.83 218.15,150.84 218.50,164.33 218.85,149.49 219.20,127.30 219.55,162.72 219.90,174.19 220.25,170.97 220.60,168.70 220.95,150.72 221.30,125.84 221.65,150.07 222.00,173.29 222.35,191.00 222.70,176.36 223.05,150.50 223.40,126.73 223.75,151.15 224.10,149.16 224.45,154.30 224.80,170.43 225.15,157.72 225.50,125.55 225.85,148.60 226.20,174.74 226.55,150.78 226.90,163.47 227.25,162.18 227.60,127.23 227.95,157.03 228.30,168.77 228.65,155.66 229.00,165.33 229.35,125.52 229.70,168.36 230.05,158.26 230.40,174.75 230.75,160.33 231.10,172.14 231.45,128.73 231.80,177.70 232.15,151.16 232.50,167.45 232.85,157.91 233.20,178.23 233.55,125.63 233.90,169.91 234.25,150.51 234.60,177.05 234.95,154.04 235.30,170.68 235.65,128.72 236.00,189.37 236.35,151.81 236.70,171.93 237.05,165.34 237.40,127.01 237.75,150.87 238.10,174.30 238.45,151.71 238.80,194.46 239.15,150.38 239.50,126.71 239.85,173.72 240.20,185.46 240.55,173.40 240.90,184.00 241.25,147.51 241.60,125.42 241.95,157.01 242.30,183.63 242.65,149.89 243.00,195.99 243.35,192.00 243.70,130.06 244.05,172.88 244.40,182.74 244.75,175.72 245.10,175.84 245.45,169.12 245.80,129.93 246.15,174.65 246.50,199.55 246.85,159.32 247.20,183.63 247.55,153.56 247.90,129.85 248.25,152.21 248.60,178.51 248.95,155.86 249.30,201.26 249.65,174.58 250.00,128.41 250.35,170.37 250.70,180.70 251.05,152.58 251.40,168.07 251.75,171.99 252.10,125.92 252.45,177.03 252.80,200.24 253.15,177.18 253.50,184.10 253.85,152.37 254.20,128.83 254.55,166.17 254.90,188.11 255.25,152.11 255.60,197.48 255.95,158.19 256.30,129.01 256.65,174.85 257.00,204.52 257.35,153.53 257.70,186.70 258.05,209.50 258.40,209.93 258.75,157.81 259.10,184.89 259.45,152.04 259.80,124.98 260.15,181.57 260.50,203.98 260.85,208.00 261.20,196.41 261.55,180.36 261.90,124.68 262.25,163.34 262.60,181.68 262.95,158.64 263.30,186.63 263.65,127.19 264.00,183.00 264.35,209.50 264.70,188.73 265.05,151.60 265.40,189.90 265.75,125.25 266.10,173.08 266.45,149.20 266.80,166.28 267.15,159.40 267.50,169.21 267.85,129.28 268.20,180.39 268.55,150.11 268.90,165.20 269.25,169.50 269.60,168.21 269.95,129.41 270.30,174.63 270.65,151.56 271.00,165.30 271.35,161.38 271.70,128.90 272.05,144.81 272.40,165.27 272.75,161.50 273.10,163.03 273.45,129.79 273.80,161.55 274.15,150.75 274.50,169.91 274.85,155.09 275.20,172.09 275.55,127.74 275.90,167.24 276.25,150.50 276.60,176.24 276.95,163.73 277.30,166.07 277.65,129.15 278.00,173.52 278.35,189.00 278.70,170.81 279.05,153.65 279.40,169.53 279.75,130.09 280.10,157.05 280.45,146.67 280.80,163.77 281.15,145.25 281.50,163.25 281.85,129.89 282.20,161.38 282.55,149.52 282.90,159.16 283.25,142.47 283.60,159.19 283.95,130.28 284.30,156.60 284.65,147.92 285.00,148.53 285.35,145.65 285.70,148.19 286.05,128.48 286.40,155.00 286.75,144.65 287.10,151.57 287.45,153.20 287.80,145.42 288.15,125.92 288.50,146.01 288.85,144.33 289.20,145.61 289.55,140.84 289.90,145.19 290.25,127.68 290.60,144.92 290.95,141.88 291.30,151.20 291.65,143.11 292.00,125.86 292.35,138.33 292.70,153.11 293.05,141.79 293.40,148.06 293.75,143.21 294.10,125.51 294.45,139.55 294.80,150.15 295.15,138.78 295.50,157.30 295.85,139.09 296.20,128.09 296.55,139.95 296.90,154.37 297.25,148.71 297.60,150.04 297.95,147.23 298.30,126.81 298.65,158.14 299.00,152.09 299.35,145.96 299.70,146.79 300.05,138.96 300.40,127.17 300.75,140.23 301.10,146.08 301.45,146.28 301.80,150.85 302.15,145.93 302.50,127.56 302.85,146.61 303.20,156.44 303.55,147.64 303.90,155.52 304.25,126.73 304.60,152.80 304.95,141.15 305.30,152.45 305.65,140.58 306.00,147.68 306.35,128.05 306.70,144.95 307.05,143.43 307.40,148.89 307.75,142.43 308.10,108.00 308.45,126.57 308.80,143.50 309.15,139.94 309.50,143.98 309.85,138.54 310.20,91.20 310.55,126.72 310.90,142.86 311.25,139.86 311.60,149.63 311.95,140.96 312.30,152.42 312.65,128.87 313.00,154.18 313.35,146.18 313.70,154.68 314.05,147.90 314.40,161.21 314.75,125.94 315.10,155.39 315.45,153.73 315.80,167.36 316.15,148.97 316.50,129.46 316.85,152.01 317.20,165.63 317.55,153.82 317.90,168.22 318.25,156.81 318.60,127.77 318.95,164.22 319.30,161.08 319.65,150.20 320.00,162.04 320.35,157.47 320.70,128.62 321.05,156.94 321.40,164.88 321.75,157.10 322.10,158.28 322.45,153.23 322.80,129.67 323.15,151.62 323.50,157.50 323.85,156.99 324.20,159.18 324.55,128.81 324.90,163.60 325.25,158.39 325.60,162.20 325.95,150.82 326.30,169.37 326.65,130.87 327.00,164.03 327.35,157.70 327.70,151.28 328.05,152.08 328.40,170.67 328.75,130.69 329.10,165.15 329.45,153.85 329.80,168.39 330.15,158.00 330.50,162.37 330.85,131.96 331.20,162.60 331.55,162.37 331.90,165.93 332.25,163.06 332.60,173.14 332.95,128.84 333.30,164.58 333.65,156.58 334.00,169.09 334.35,165.10 334.70,168.67 335.05,129.70 335.40,167.33 335.75,155.06 336.10,172.73 336.45,163.81 336.80,171.68 337.15,131.75 337.50,165.90 337.85,161.15 338.20,163.46 338.55,160.37 338.90,163.32 339.25,131.24 339.60,163.40 339.95,161.51 340.30,164.73 340.65,158.31 341.00,162.48 341.35,129.73 341.70,165.36 342.05,166.02 342.40,163.16 342.75,161.80 343.10,164.70 343.45,134.22 343.80,166.12 344.15,164.64 344.50,169.50 344.85,170.37 345.20,169.00 345.55,130.35 345.90,164.97 346.25,164.06 346.60,173.81 346.95,172.42 347.30,175.75 347.65,130.60 348.00,178.62 348.35,175.04 348.70,178.78 349.05,163.28 349.40,131.96 349.75,163.34 350.10,191.44 350.45,163.93 350.80,186.17 351.15,204.20 351.50,132.64 351.85,173.23 352.20,198.89 352.55,170.39 352.90,184.42 353.25,174.64 353.60,132.85 353.95,181.32 354.30,201.05 354.65,170.45 355.00,206.29 355.35,217.00 355.70,131.85 356.05,180.48 356.40,183.56 356.75,163.82 357.10,171.58 357.45,177.33 357.80,130.42 358.15,164.16 358.50,183.43 358.85,168.55 359.20,201.40 359.55,134.85 359.90,192.05 360.25,170.09 360.60,197.20 360.95,168.88 361.30,189.29 361.65,132.08 362.00,180.36 362.35,162.98 362.70,186.50 363.05,164.13 363.40,179.32 363.75,132.68 364.10,183.06 364.45,161.78 364.80,181.19 365.15,173.05 365.50,172.98 365.85,131.02 366.20,178.22 366.55,163.22 366.90,178.41 367.25,160.46 367.60,175.17 367.95,132.92 368.30,187.88 368.65,162.50 369.00,160.06 369.35,193.70 369.70,130.98 370.05,174.77 370.40,177.36 370.75,159.05 371.10,179.04 371.45,129.72 371.80,191.40 372.15,168.75 372.50,187.14 372.85,181.71 373.20,127.35 373.55,171.58 373.90,186.82 374.25,165.31 374.60,175.72 374.95,173.00 375.30,131.46 375.65,172.47 376.00,178.35 376.35,167.24 376.70,182.91 377.05,160.74 377.40,129.86 377.75,159.28 378.10,203.50 378.45,166.98 378.80,189.33 379.15,167.62 379.50,127.67 379.85,158.73 380.20,173.89 380.55,159.55 380.90,172.08 381.25,166.32 381.60,131.32 381.95,169.38 382.30,177.04 382.65,169.34 383.00,177.59 383.35,159.73 383.70,131.79 384.05,158.11 384.40,170.46 384.75,161.99 385.10,170.45 385.45,168.96 385.80,130.78 386.15,168.76 386.50,173.86 386.85,158.56 387.20,180.84 387.55,162.25 387.90,129.89 388.25,172.98 388.60,190.30 388.95,160.38 389.30,183.87 389.65,171.45 390.00,131.40 390.35,169.30 390.70,183.88 391.05,161.56 391.40,179.60 391.75,160.96 392.10,130.40 392.45,161.61 392.80,170.49 393.15,161.45 393.50,171.85 393.85,132.47 394.20,179.62 394.55,166.63 394.90,178.27 395.25,167.31 395.60,178.54 395.95,130.39 396.30,172.52 396.65,160.94 397.00,172.47 397.35,169.32 397.70,175.26 398.05,131.99 398.40,159.90 398.75,166.49 399.10,178.58 399.45,165.01 399.80,178.62 400.15,129.76 400.50,178.02 400.85,158.86 401.20,183.82 401.55,171.35 401.90,180.30 402.25,131.13 402.60,182.75 402.95,166.66 403.30,189.57 403.65,166.94 404.00,199.90 404.35,131.20 404.70,198.40 405.05,163.12 405.40,196.35 405.75,194.78 406.10,191.61 406.45,129.61 406.80,184.23 407.15,168.38 407.50,186.38 407.85,172.49 408.20,171.38 408.55,129.16 408.90,170.68 409.25,169.51 409.60,176.00 409.95,168.13 410.30,169.30 410.65,130.71 411.00,177.74 411.35,161.28 411.70,167.95 412.05,160.44 412.40,173.12 412.75,132.37 413.10,169.77 413.45,159.80 413.80,170.39 414.15,167.99 414.50,170.64 414.85,130.45 415.20,171.24 415.55,160.07 415.90,172.27 416.25,169.29 416.60,184.89 416.95,132.08 417.30,177.82 417.65,172.24 418.00,184.04 418.35,199.21 418.70,188.14 419.05,133.10 419.40,204.00 419.75,167.55 420.10,203.23 420.45,218.10 420.80,187.09 421.15,133.93 421.50,207.00 421.85,162.01 422.20,205.44 422.55,170.90 422.90,180.80 423.25,131.58 423.60,177.81 423.95,175.10 424.30,191.95 424.65,164.78 425.00,165.65 425.35,132.48 425.70,182.73 426.05,163.77 426.40,179.54 426.75,170.81 427.10,198.40 427.45,128.68 427.80,181.94 428.15,164.19 428.50,198.89 428.85,197.00 429.20,127.86 429.55,194.92 429.90,187.88 430.25,178.05 430.60,162.55 430.95,198.40 431.30,129.50 431.65,157.65 432.00,176.97 432.35,199.00 432.70,175.62 433.05,163.98 433.40,130.77 433.75,154.38 434.10,169.60 434.45,163.65 434.80,174.04 435.15,155.47 435.50,125.70 435.85,156.02 436.20,168.47 436.55,161.76 436.90,172.03 437.25,159.46 437.60,124.39 437.95,149.91 438.30,165.58 438.65,155.89 439.00,169.43 439.35,152.71 439.70,126.67 440.05,163.81 440.40,169.77 440.75,157.17 441.10,168.74 441.45,164.17 441.80,126.49 442.15,161.33 442.50,172.45 442.85,160.14 443.20,169.54 443.55,162.57 443.90,125.71 444.25,159.23 444.60,161.83 444.95,158.35 445.30,164.39 445.65,161.26 446.00,128.13 446.35,168.63 446.70,183.47 447.05,166.47 447.40,181.25 447.75,129.41 448.10,183.28 448.45,157.03 448.80,169.92 449.15,158.68 449.50,180.38 449.85,126.30 450.20,170.26 450.55,154.99 450.90,185.84 451.25,155.12 451.60,182.41 451.95,126.87 452.30,183.94 452.65,169.03 453.00,184.01 453.35,172.56 453.70,180.14 454.05,130.18 454.40,168.08 454.75,166.19 455.10,178.59 455.45,163.84 455.80,170.11 456.15,130.21 456.50,174.21 456.85,158.50 457.20,179.76 457.55,165.29 457.90,179.28 458.25,128.83 458.60,172.11 458.95,150.49 459.30,171.77 459.65,161.76 460.00,164.88 460.35,130.51 460.70,164.54 461.05,153.61 461.40,182.40 461.75,155.12 462.10,129.16 462.45,167.61 462.80,176.49 463.15,166.15 463.50,179.32 463.85,129.70 464.20,194.40 464.55,159.74 464.90,192.05 465.25,147.14 465.60,174.23 465.95,130.32 466.30,190.66 466.65,164.22 467.00,178.34 467.35,166.50 467.70,128.75 468.05,143.86 468.40,186.49 468.75,143.96 469.10,181.62 469.45,133.08 469.80,184.67 470.15,142.04 470.50,166.86 470.85,152.78 471.20,166.67 471.55,130.55 471.90,192.59 472.25,153.28 472.60,152.57 472.95,141.19 473.30,170.90 473.65,132.34 474.00,177.96 474.35,143.88 474.70,192.26 475.05,147.79 475.40,181.97 475.75,129.09 476.10,176.08 476.45,199.40 476.80,199.42 477.15,147.35 477.50,199.23 477.85,129.71 478.20,193.25 478.55,186.72 478.90,188.81 479.25,148.35 479.60,169.46 479.95,129.24 480.30,172.73 480.65,135.87 481.00,189.21 481.35,154.74 481.70,154.76 482.05,132.99 482.40,162.99 482.75,160.28 483.10,170.83 483.45,156.53 483.80,184.28 484.15,132.82 484.50,178.31 484.85,162.33 485.20,187.16 485.55,181.11 485.90,167.94 486.25,131.29 486.60,165.37 486.95,162.82 487.30,169.54 487.65,145.42 488.00,184.29 488.35,193.40 488.70,169.20 489.05,141.11 489.40,157.44 489.75,149.77 490.10,167.73 490.45,132.72 490.80,153.16 491.15,136.73 491.50,142.90 491.85,149.82 492.20,132.28 492.55,133.34 492.90,149.62 493.25,134.32 493.60,148.64 493.95,140.92 494.30,128.90 494.65,139.68 495.00,150.20 495.35,136.55 495.70,145.15 496.05,137.80 496.40,130.77 496.75,133.14 497.10,173.00 497.45,132.92 497.80,142.47 498.15,135.57 498.50,147.88 498.85,131.00 499.20,141.85 499.55,132.20 499.90,143.91 500.25,135.80 500.60,142.29 500.95,134.45 501.30,150.50 501.65,140.41 502.00,143.19 502.35,130.37 502.70,146.59 503.05,171.00 503.40,147.61 503.75,134.07 504.10,150.54 504.45,76.20 504.80,154.00 505.15,113.00 505.50,150.16 505.85,130.50 506.20,115.00 506.55,132.28 506.90,147.62 507.25,137.02 507.60,151.60 507.95,133.20 508.30,152.08 508.65,135.12 509.00,145.24 509.35,0.00 509.70,156.32 510.05,136.45 510.40,155.34 510.75,110.50 511.10,148.87 511.45,134.06 511.80,151.08 512.15,121.00 512.50,146.44 512.85,131.63 513.20,145.13 513.55,121.00 513.90,151.73 514.25,130.37 514.60,130.01 514.95,133.25 515.30,156.29 515.65,142.20 516.00,147.90 516.35,135.97 516.70,152.63 517.05,124.00 517.40,152.90 517.75,132.63 518.10,150.20 518.45,131.39 518.80,155.68 519.15,124.00 519.50,144.38 519.85,185.00 520.20,155.30 520.55,138.36 520.90,125.00 521.25,139.69 521.60,155.98 521.95,130.90 522.30,144.48 522.65,131.80 523.00,156.23 523.35,136.59 523.70,157.23 524.05,133.24 524.40,88.00 524.75,131.09 525.10,144.37 525.45,116.00 525.80,149.89 526.15,131.11 526.50,155.40 526.85,117.00 527.20,150.81 527.55,133.28 527.90,152.86 528.25,134.78 528.60,112.00 528.95,130.06 529.30,138.41 529.65,130.79 530.00,107.50 530.35,134.92 530.70,148.51 531.05,131.63 531.40,108.00 531.75,141.22 532.10,156.79 532.45,118.00 532.80,148.97"/>
</g></g>
<rect x="24.40" y="12.00" width="519.30" height="239.20" fill="none" stroke="#000" stroke-width="0.42"/>
<path d="M29.15 251.20v1.8M50.15 251.20v1.8M71.15 251.20v1.8M92.15 251.20v1.8M113.15 251.20v1.8M134.15 251.20v1.8M155.15 251.20v1.8M176.15 251.20v1.8M197.15 251.20v1.8M218.15 251.20v1.8M239.15 251.20v1.8M260.15 251.20v1.8M281.15 251.20v1.8M302.15 251.20v1.8M323.15 251.20v1.8M344.15 251.20v1.8M365.15 251.20v1.8M386.15 251.20v1.8M407.15 251.20v1.8M428.15 251.20v1.8M449.15 251.20v1.8M470.15 251.20v1.8M491.15 251.20v1.8M512.15 251.20v1.8M24.40 251.20h-1.8M24.40 198.42h-1.8M24.40 145.64h-1.8M24.40 92.86h-1.8M24.40 40.08h-1.8" stroke="#000" stroke-width="0.42" fill="none"/>
<text x="29.15" y="258.9" font-size="5.05" text-anchor="middle">00:00</text>
<text x="50.15" y="258.9" font-size="5.05" text-anchor="middle">01:00</text>
<text x="71.15" y="258.9" font-size="5.05" text-anchor="middle">02:00</text>
<text x="92.15" y="258.9" font-size="5.05" text-anchor="middle">03:00</text>
<text x="113.15" y="258.9" font-size="5.05" text-anchor="middle">04:00</text>
<text x="134.15" y="258.9" font-size="5.05" text-anchor="middle">05:00</text>
<text x="155.15" y="258.9" font-size="5.05" text-anchor="middle">06:00</text>
<text x="176.15" y="258.9" font-size="5.05" text-anchor="middle">07:00</text>
<text x="197.15" y="258.9" font-size="5.05" text-anchor="middle">08:00</text>
<text x="218.15" y="258.9" font-size="5.05" text-anchor="middle">09:00</text>
<text x="239.15" y="258.9" font-size="5.05" text-anchor="middle">10:00</text>
<text x="260.15" y="258.9" font-size="5.05" text-anchor="middle">11:00</text>
<text x="281.15" y="258.9" font-size="5.05" text-anchor="middle">12:00</text>
<text x="302.15" y="258.9" font-size="5.05" text-anchor="middle">13:00</text>
<text x="323.15" y="258.9" font-size="5.05" text-anchor="middle">14:00</text>
<text x="344.15" y="258.9" font-size="5.05" text-anchor="middle">15:00</text>
<text x="365.15" y="258.9" font-size="5.05" text-anchor="middle">16:00</text>
<text x="386.15" y="258.9" font-size="5.05" text-anchor="middle">17:00</text>
<text x="407.15" y="258.9" font-size="5.05" text-anchor="middle">18:00</text>
<text x="428.15" y="258.9" font-size="5.05" text-anchor="middle">19:00</text>
<text x="449.15" y="258.9" font-size="5.05" text-anchor="middle">20:00</text>
<text x="470.15" y="258.9" font-size="5.05" text-anchor="middle">21:00</text>
<text x="491.15" y="258.9" font-size="5.05" text-anchor="middle">22:00</text>
<text x="512.15" y="258.9" font-size="5.05" text-anchor="middle">23:00</text>
<text x="19.9" y="253.10" font-size="5.05" text-anchor="end">40</text>
<text x="19.9" y="200.32" font-size="5.05" text-anchor="end">60</text>
<text x="19.9" y="147.54" font-size="5.05" text-anchor="end">80</text>
<text x="19.9" y="94.76" font-size="5.05" text-anchor="end">100</text>
<text x="19.9" y="41.98" font-size="5.05" text-anchor="end">120</text>
<text x="284" y="265.7" font-size="5.05" text-anchor="middle">Time</text>
<text transform="translate(7.2 132.2) rotate(-90)" font-size="5.05" text-anchor="middle">Average Heart Rate (bpm)</text>
<text x="283.6" y="9.0" font-size="6.05" text-anchor="middle">Average Heart Rate by Time and Gender</text>
<rect x="26.4" y="14.1" width="37.5" height="17.1" rx="0.8" fill="#fff" fill-opacity="0.8" stroke="#ccc" stroke-width="0.4"/>
<path d="M28.3 18.5H39" stroke="#1f77b4" stroke-width="0.8"/><path d="M28.3 25.7H39" stroke="#ff7f0e" stroke-width="0.8"/>
<text x="42.9" y="20.3" font-size="5.05">Man</text><text x="42.9" y="27.6" font-size="5.05">Woman</text>
</svg></body></html>
